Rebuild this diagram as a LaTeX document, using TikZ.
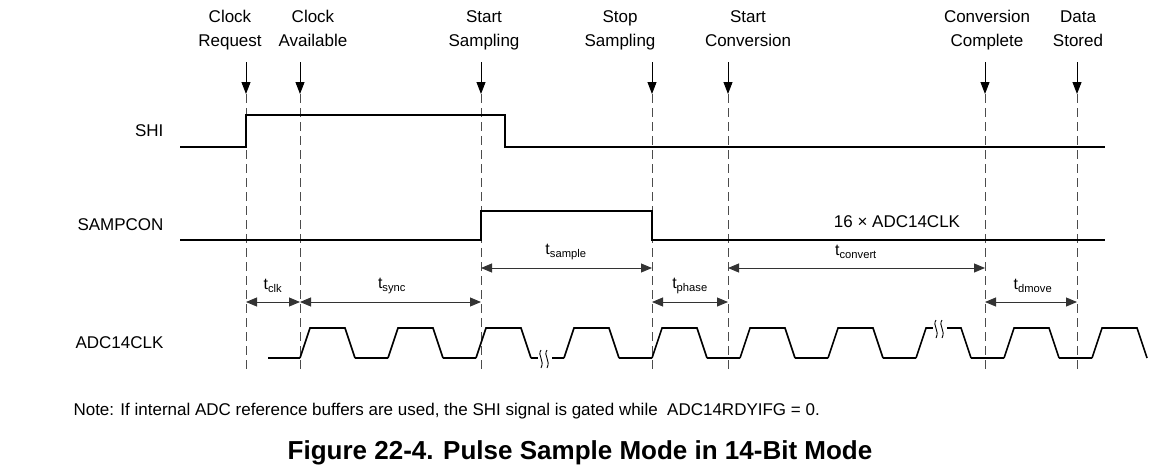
\documentclass[tikz,border=0pt]{standalone}
\usepackage{fontspec}
\setmainfont{Liberation Sans}
\usetikzlibrary{arrows.meta}
\begin{document}
\begin{tikzpicture}[x=1pt,y=-1pt,
  sig/.style={line width=1.6pt,line join=miter},
  guide/.style={dash pattern=on 9pt off 5pt,line width=0.7pt,black!70},
  ev/.style={-{Triangle[length=12pt,width=9pt]},line width=0.9pt},
  dim/.style={{Triangle[length=11pt,width=9pt]}-{Triangle[length=11pt,width=9pt]},line width=0.9pt,black!80},
  lbl/.style={font=\fontsize{17}{24}\selectfont,align=center},
  sub/.style={font=\fontsize{16}{18}\selectfont}]
\useasboundingbox (0,0) rectangle (1159,472);
% event labels
\foreach \x/\lx/\t/\n in {246/230/{Clock\\Request}/cr,300/313/{Clock\\Available}/ca,481/484/{Start\\Sampling}/ss,652/620/{Stop\\Sampling}/sp,728/748/{Start\\Conversion}/sc,985/987/{Conversion\\Complete}/cc,1077/1078/{Data\\Stored}/ds}{
  \node[lbl,anchor=base] (\n) at (\lx,46) {\t};
  \coordinate (\n t) at (\x,62);
  \coordinate (\n b) at (\x,94);
  \coordinate (\n e) at (\x,372);
  \draw[ev] (\n t) -- (\n b);
  \draw[guide] (\n b) -- (\n e);
}
% signal names
\node[lbl,anchor=east] (shi) at (167,131) {SHI};
\node[lbl,anchor=east] (samp) at (167,225) {SAMPCON};
\node[lbl,anchor=east] (adc) at (167,343) {ADC14CLK};
% SHI
\draw[sig] (180,147) -- (246,147) -- (246,115) -- (505,115) -- (505,147) -- (1105,147);
% SAMPCON
\draw[sig] (180,240) -- (481,240) -- (481,211) -- (652,211) -- (652,240) -- (1105,240);
\node[lbl] (n16) at (897,222) {16 × ADC14CLK};
% clock
\draw[sig] (268,358) -- (300,358);
\foreach \r in {300,388,476,564,652,740,828,916,1004,1092}{
  \draw[sig] (\r,358) -- (\r+10,328) -- (\r+45,328) -- (\r+55,358);
}
\foreach \r in {300,388,476,564,652,740,828,916,1004}{
  \draw[sig] (\r+55,358) -- (\r+88,358);
}
% break marks
\fill[white] (538,350) rectangle (552,366);
\draw[line width=0.9pt] (541,350) .. controls (537,356) and (545,360) .. (541,368);
\draw[line width=0.9pt] (547,350) .. controls (543,356) and (551,360) .. (547,368);
\fill[white] (933,320) rectangle (947,336);
\draw[line width=0.9pt] (936,320) .. controls (932,326) and (940,330) .. (936,338);
\draw[line width=0.9pt] (942,320) .. controls (938,326) and (946,330) .. (942,338);
% dimensions
\draw[dim] (ssb |- 0,268) -- (spb |- 0,268);
\node[sub] at (566,252) {t\textsubscript{sample}};
\draw[dim] (scb |- 0,268) -- (ccb |- 0,268);
\node[sub] at (856,252) {t\textsubscript{convert}};
\draw[dim] (crb |- 0,302) -- (cab |- 0,302);
\node[sub] at (273,286) {t\textsubscript{clk}};
\draw[dim] (cab |- 0,302) -- (ssb |- 0,302);
\node[sub] at (392,286) {t\textsubscript{sync}};
\draw[dim] (spb |- 0,302) -- (scb |- 0,302);
\node[sub] at (690,286) {t\textsubscript{phase}};
\draw[dim] (ccb |- 0,302) -- (dsb |- 0,302);
\node[sub] at (1033,286) {t\textsubscript{dmove}};
% note and title
\node[anchor=west,font=\fontsize{17}{20}\selectfont] (note) at (70,411) {Note: If internal ADC reference buffers are used, the SHI signal is gated while\ \ ADC14RDYIFG = 0.};
\node[font=\bfseries\fontsize{26}{30}\selectfont] (title) at (580,453) {Figure 22-4. Pulse Sample Mode in 14-Bit Mode};
\end{tikzpicture}
\end{document}
